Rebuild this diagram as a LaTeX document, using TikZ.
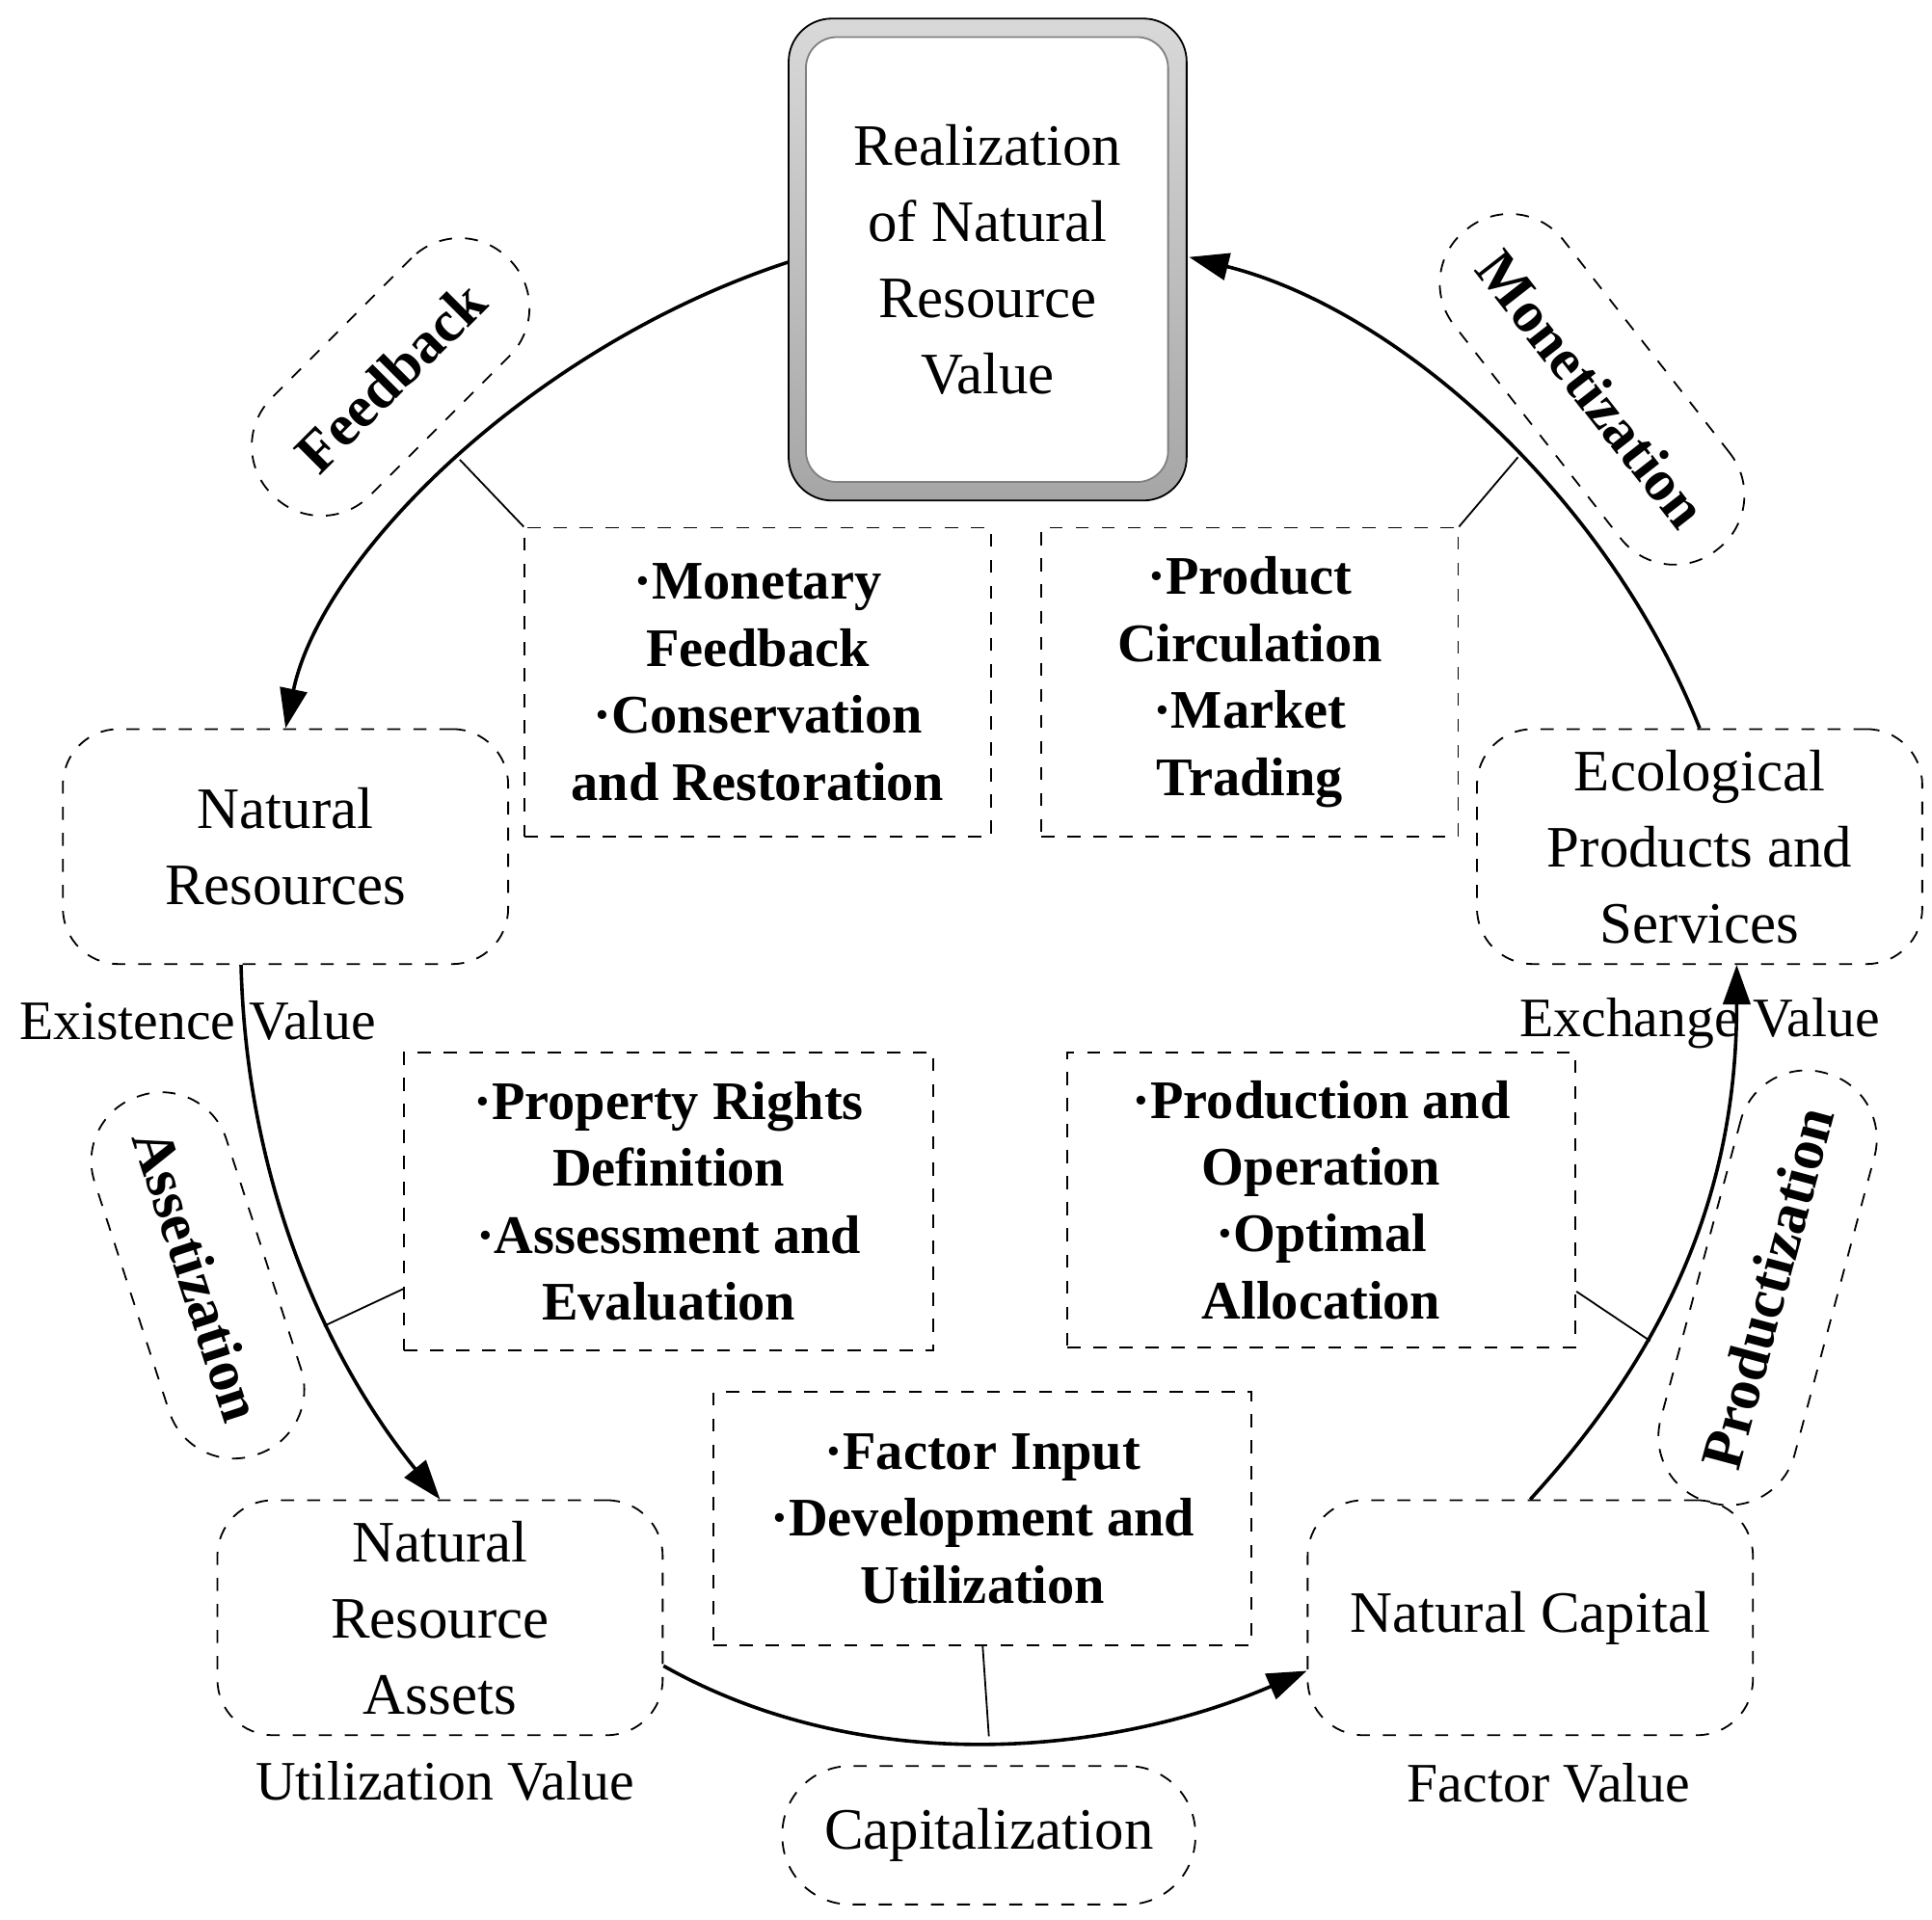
\documentclass[tikz,border=0pt]{standalone}
\usepackage{fontspec}
\setmainfont{Liberation Serif}
\usetikzlibrary{arrows.meta}
\begin{document}
\begin{tikzpicture}[x=0.01cm,y=-0.01cm,
  big/.style={font=\fontsize{13.5}{17.5}\selectfont,align=center},
  rbox/.style={draw,dashed,rounded corners=0.45cm,minimum width=3.6cm,minimum height=1.9cm,big},
  sbox/.style={draw,dashed,align=center,font=\bfseries\fontsize{12.5}{15.4}\selectfont},
  pill/.style={draw,dashed,rounded corners=0.55cm,minimum height=1.12cm,inner xsep=0.3cm,font=\fontsize{13.5}{16}\selectfont},
  lab/.style={font=\fontsize{12.8}{14}\selectfont},
  arr/.style={-{Triangle[length=0.32cm,width=0.22cm]},thick},
  con/.style={thin}]
\useasboundingbox (0,0) rectangle (1563,1553);
% top box
\shade[rounded corners=0.35cm,top color=gray!30,bottom color=gray!70,draw=black] (638,15) rectangle (960,405);
\draw[rounded corners=0.25cm,fill=white,draw=gray] (652,30) rectangle (945,390);
\node[big] (top) at (799,210) {Realization\\of Natural\\Resource\\Value};
\coordinate (topL) at (638,212);
\coordinate (topR) at (962,208);
% nodes
\node[rbox] (nr) at (231,685) {Natural\\Resources};
\node[rbox] (eco) at (1375,685) {Ecological\\Products and\\Services};
\node[rbox] (nra) at (356,1309) {Natural\\Resource\\Assets};
\node[rbox] (nc) at (1238,1309) {Natural Capital};
\node[lab] (l1) at (160,826) {Existence Value};
\node[lab] (l2) at (1375,828) {Exchange Value};
\node[lab] (l3) at (360,1441) {Utilization Value};
\node[lab] (l4) at (1253,1443) {Factor Value};
% dashed boxes
\node[sbox,minimum width=3.77cm,minimum height=2.5cm] (a) at (613,552) {·Monetary\\Feedback\\·Conservation\\and Restoration};
\node[sbox,minimum width=3.37cm,minimum height=2.5cm] (b) at (1011,552) {·Product\\Circulation\\·Market\\Trading};
\node[sbox,minimum width=4.28cm,minimum height=2.41cm] (c) at (541,972) {·Property Rights\\Definition\\·Assessment and\\Evaluation};
\node[sbox,minimum width=4.11cm,minimum height=2.38cm] (d) at (1069,971) {·Production and\\Operation\\·Optimal\\Allocation};
\node[sbox,minimum width=4.35cm,minimum height=2.05cm] (e) at (795,1229) {·Factor Input\\·Development and\\Utilization};
% pills
\node[pill,font=\bfseries\fontsize{13.5}{16}\selectfont,rotate=45,minimum width=2.7cm] (p1) at (316,305) {Feedback};
\node[pill,font=\bfseries\fontsize{13.5}{16}\selectfont,rotate=-52,minimum width=3.2cm] (p2) at (1288,315) {Monetization};
\node[pill,font=\bfseries\fontsize{13.5}{16}\selectfont,rotate=-72,minimum width=2.9cm] (p3) at (160,1032) {Assetization};
\node[pill,font=\bfseries\fontsize{13.5}{16}\selectfont,rotate=75,minimum width=3.1cm] (p4) at (1430,1042) {Productization};
\node[pill,minimum width=3.34cm] (p5) at (800,1485) {Capitalization};
% arcs
\draw[arr] (topL) .. controls (430,280) and (260,450) .. (nr.north);
\draw[arr] (eco.north) .. controls (1300,400) and (1130,250) .. (topR);
\draw[arr] (nr.south -| 195,0) .. controls (200,980) and (280,1120) .. (nra.north);
\draw[arr] (nra.east |- 0,1348) .. controls (700,1440) and (900,1420) .. (nc.west |- 0,1352);
\draw[arr] (nc.north) .. controls (1360,1080) and (1405,950) .. (eco.south -| 1405,0);
% connectors
\coordinate (k1) at (372,372); \coordinate (k2) at (1228,370);
\coordinate (k3) at (262,1073); \coordinate (k4) at (1335,1085);
\coordinate (k5) at (800,1405);
\draw[con] (k1) -- (a.north west);
\draw[con] (k2) -- (b.north east);
\draw[con] (k3) -- (c.west |- 0,1043);
\draw[con] (d.east |- 0,1045) -- (k4);
\draw[con] (e.south) -- (k5);
\end{tikzpicture}
\end{document}
